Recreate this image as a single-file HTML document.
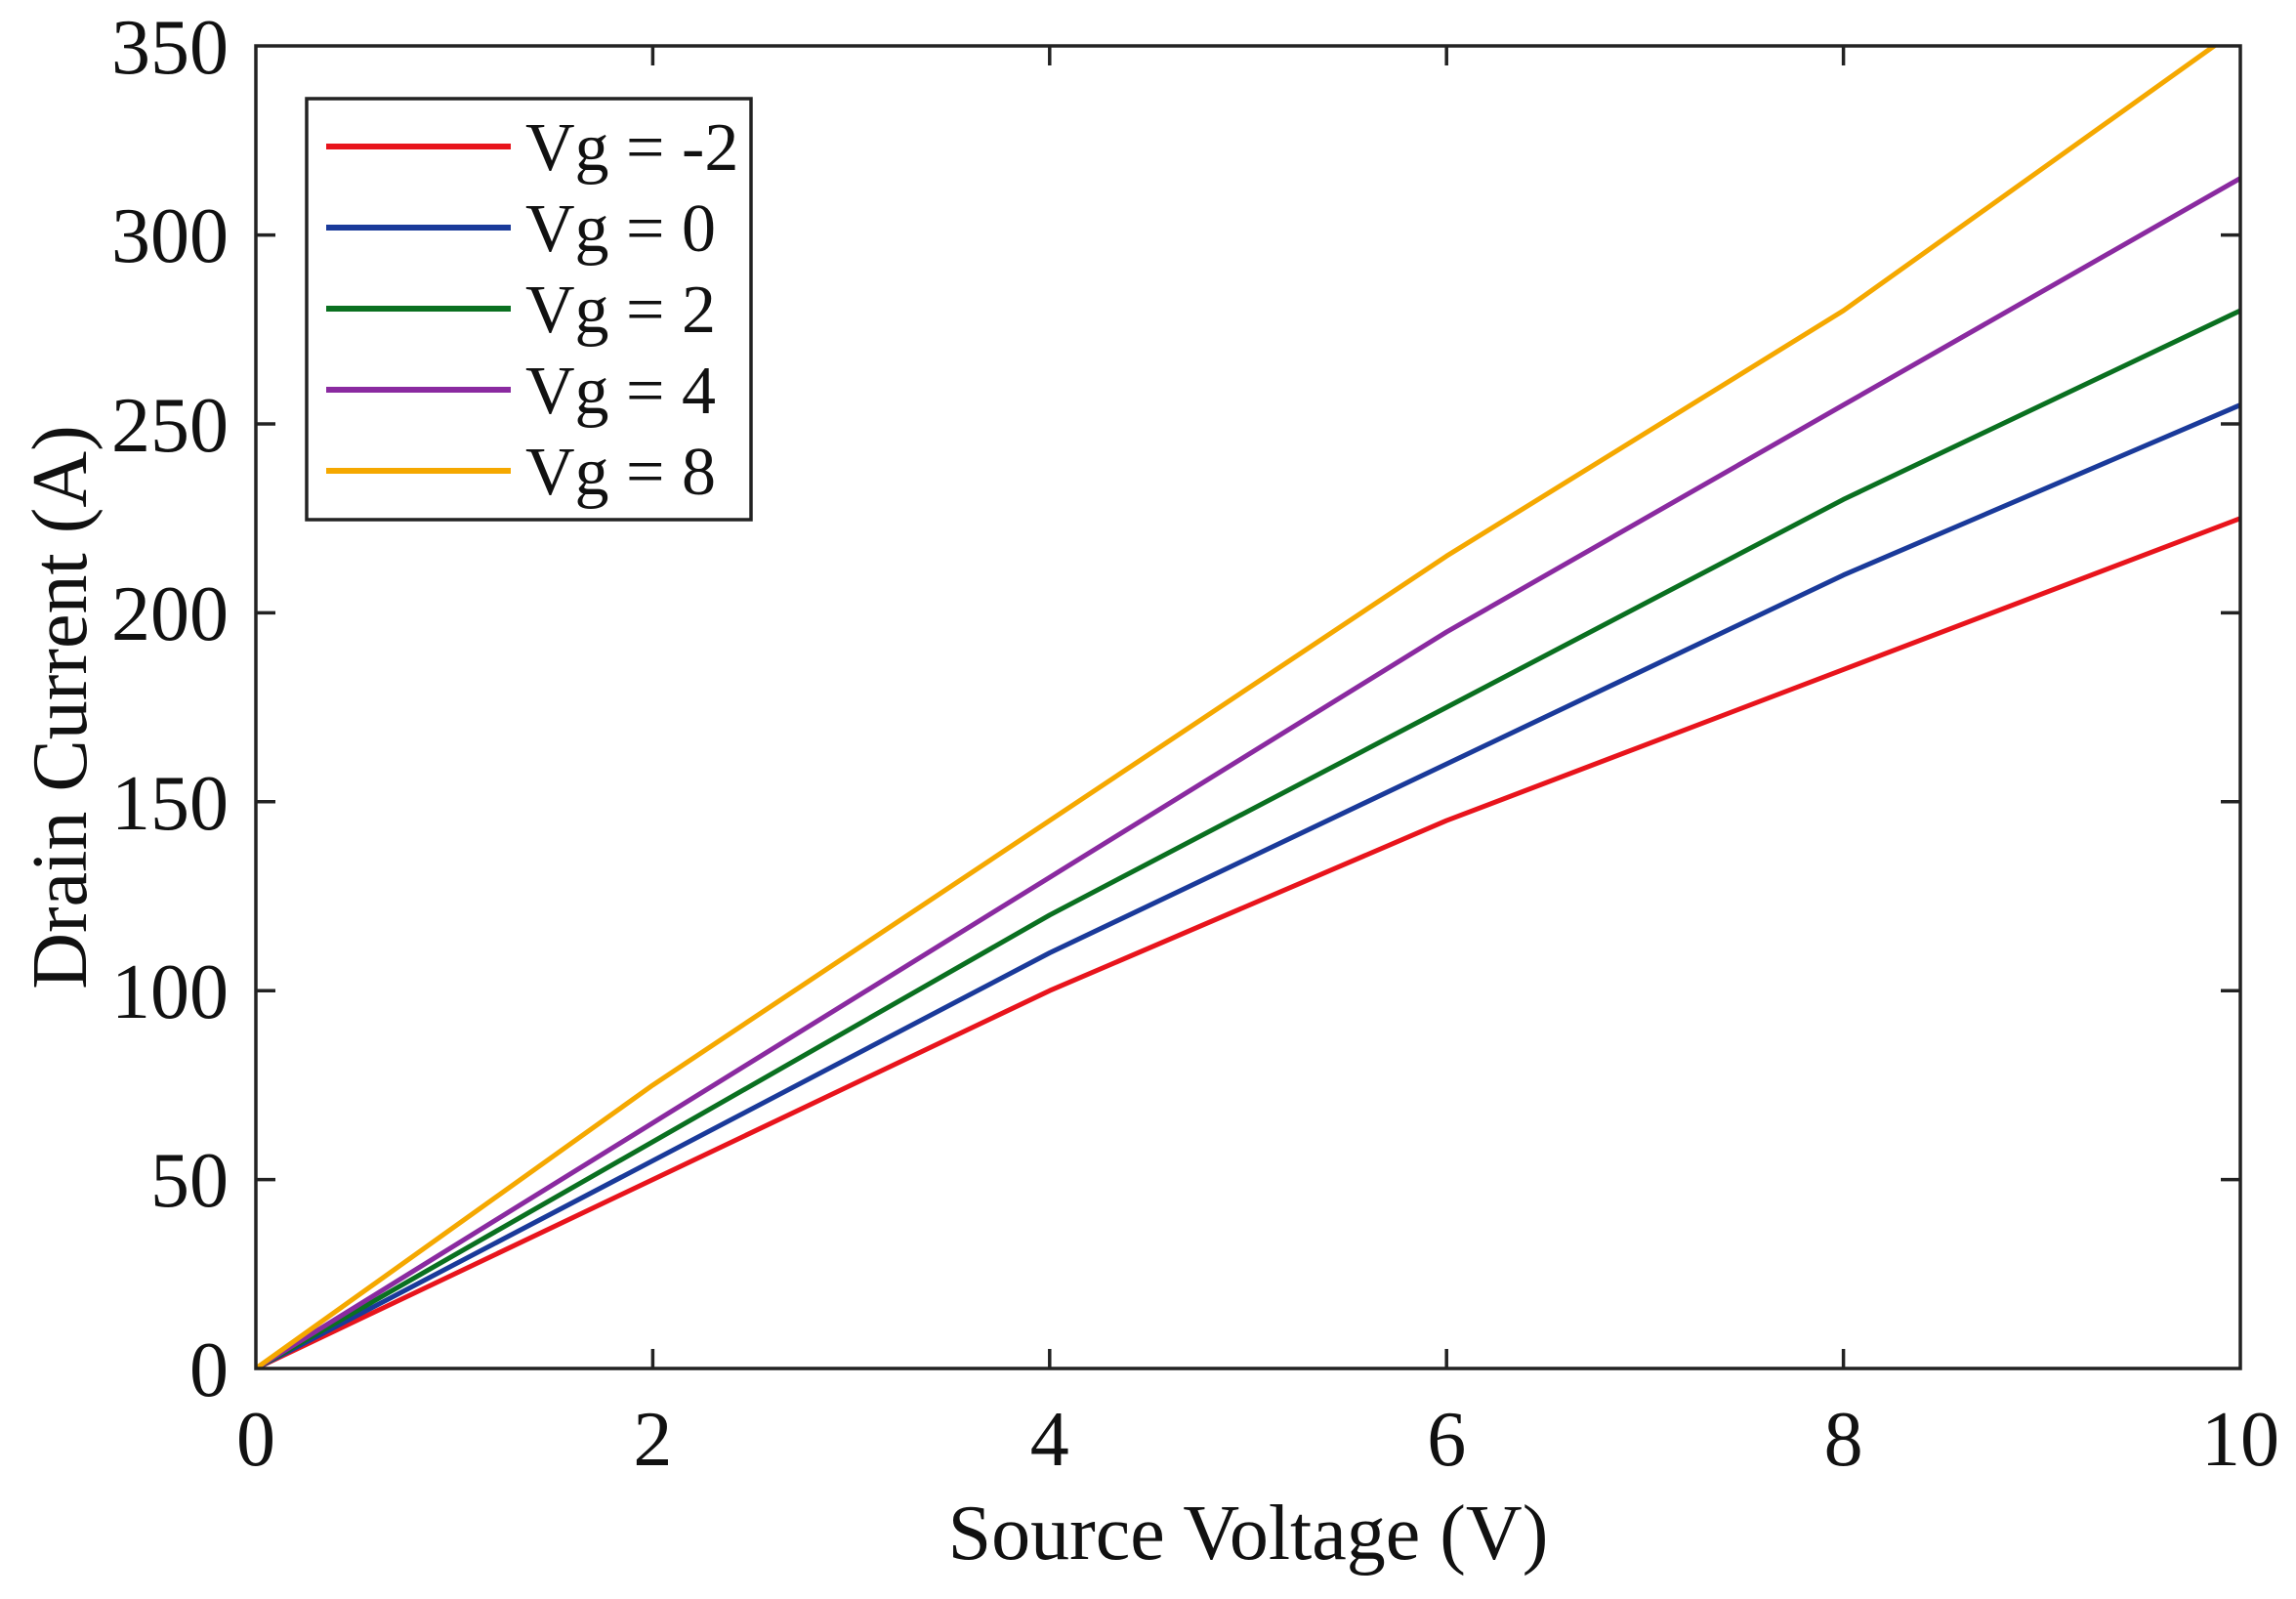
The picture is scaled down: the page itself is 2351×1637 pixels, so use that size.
<!DOCTYPE html>
<html><head><style>html,body{margin:0;padding:0;background:#fff}svg{display:block}</style></head>
<body>
<svg width="2351" height="1637" viewBox="0 0 2351 1637" xmlns="http://www.w3.org/2000/svg" font-family="'Liberation Serif', serif">
<defs><clipPath id="c"><rect x="262" y="47" width="2032" height="1354"/></clipPath></defs>
<rect width="2351" height="1637" fill="#fff"/>
<g clip-path="url(#c)" fill="none" stroke-width="5" stroke-linejoin="round">
<polyline stroke="#e8141c" points="262,1401 668.4,1207.6 1074.8,1014.2 1481.2,840.1 1887.6,685.4 2294,530.7"/>
<polyline stroke="#1a3a9a" points="262,1401 668.4,1188.3 1074.8,975.5 1481.2,782.1 1887.6,588.7 2294,414.6"/>
<polyline stroke="#0a7020" points="262,1401 668.4,1168.9 1074.8,936.8 1481.2,724.1 1887.6,511.3 2294,318"/>
<polyline stroke="#8a2aa0" points="262,1401 668.4,1149.6 1074.8,898.2 1481.2,647 1887.6,414.6 2294,182.5"/>
<polyline stroke="#f5a800" points="262,1401 668.4,1110.9 1074.8,840.1 1481.2,569.3 1887.6,318 2294,27.9"/>
</g>
<g stroke="#222" stroke-width="3.5" fill="none">
<rect x="262" y="47" width="2032" height="1354"/>
<path d="M668.4,1401v-20M1074.8,1401v-20M1481.2,1401v-20M1887.6,1401v-20M668.4,47v20M1074.8,47v20M1481.2,47v20M1887.6,47v20"/>
<path d="M262,1207.6h20M262,1014.2h20M262,820.8h20M262,627.4h20M262,434h20M262,240.6h20M2294,1207.6h-20M2294,1014.2h-20M2294,820.8h-20M2294,627.4h-20M2294,434h-20M2294,240.6h-20"/>
</g>
<g font-size="80" fill="#111" text-anchor="end">
<text x="234" y="1429">0</text>
<text x="234" y="1235">50</text>
<text x="234" y="1042">100</text>
<text x="234" y="849">150</text>
<text x="234" y="655">200</text>
<text x="234" y="462">250</text>
<text x="234" y="268">300</text>
<text x="234" y="75">350</text>
</g>
<g font-size="80" fill="#111" text-anchor="middle">
<text x="262" y="1500">0</text>
<text x="668.4" y="1500">2</text>
<text x="1074.8" y="1500">4</text>
<text x="1481.2" y="1500">6</text>
<text x="1887.6" y="1500">8</text>
<text x="2294" y="1500">10</text>
<text x="1278" y="1596">Source Voltage (V)</text>
<text transform="translate(88,724) rotate(-90)">Drain Current (A)</text>
</g>
<rect x="314" y="101" width="455" height="431" fill="#fff" stroke="#222" stroke-width="3.5"/>
<g stroke-width="6">
<line x1="334" y1="150" x2="523" y2="150" stroke="#e8141c"/>
<line x1="334" y1="233" x2="523" y2="233" stroke="#1a3a9a"/>
<line x1="334" y1="316" x2="523" y2="316" stroke="#0a7020"/>
<line x1="334" y1="399" x2="523" y2="399" stroke="#8a2aa0"/>
<line x1="334" y1="482" x2="523" y2="482" stroke="#f5a800"/>
</g>
<g font-size="70" fill="#111">
<text x="538" y="174">Vg = -2</text>
<text x="538" y="257">Vg = 0</text>
<text x="538" y="340">Vg = 2</text>
<text x="538" y="423">Vg = 4</text>
<text x="538" y="506">Vg = 8</text>
</g>
</svg>
</body></html>
